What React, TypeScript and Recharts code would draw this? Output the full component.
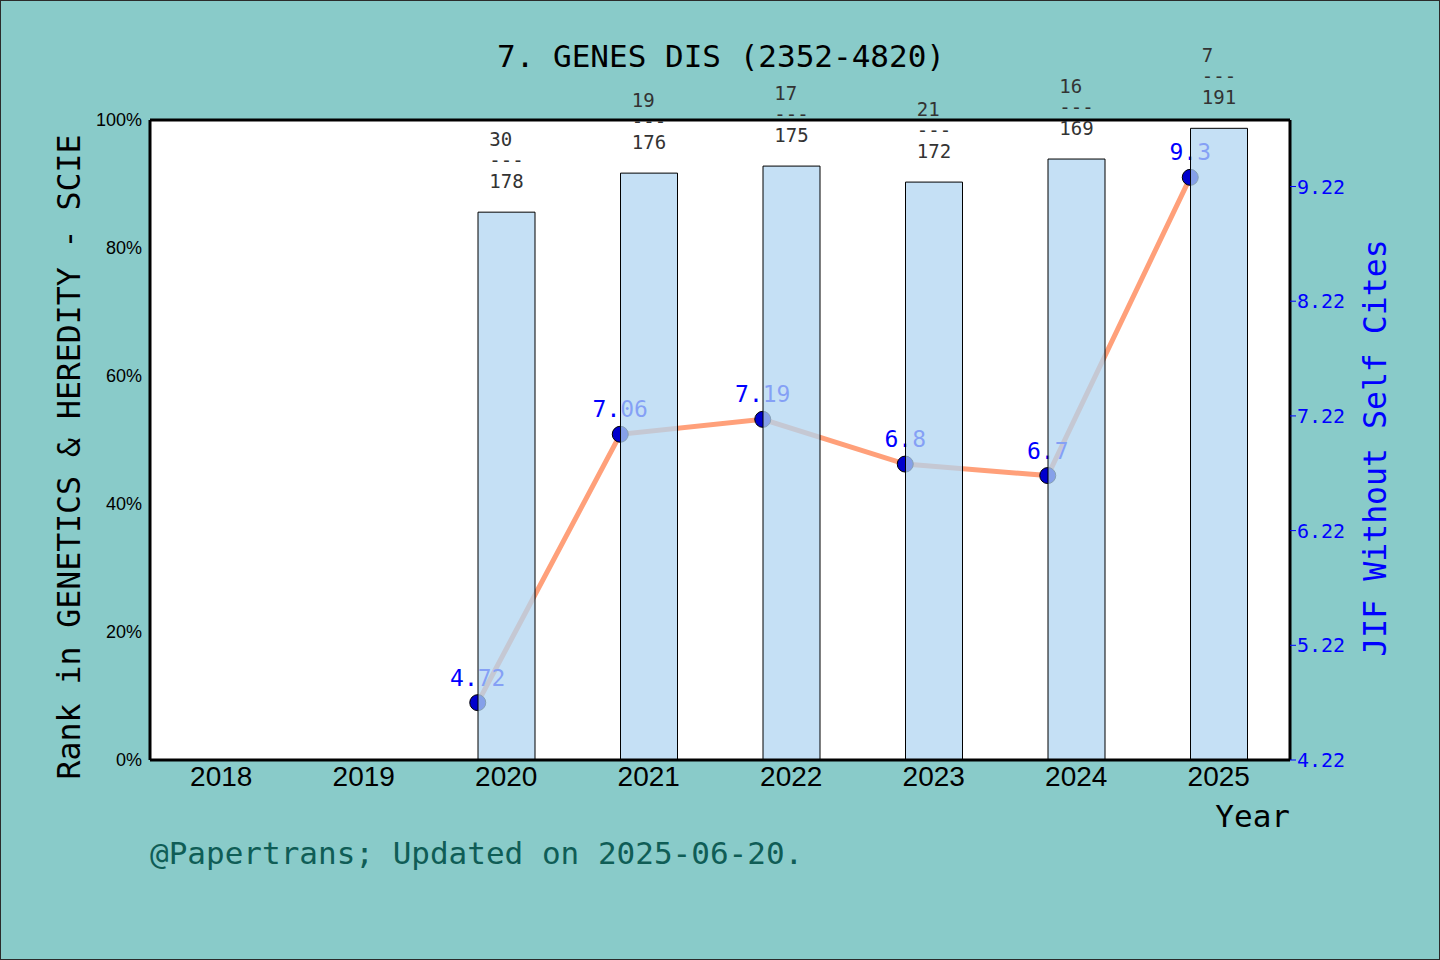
import React from 'react';
import { ComposedChart, Bar, Line, Scatter, XAxis, YAxis, CartesianGrid, ReferenceLine, LabelList } from 'recharts';

// --- data ---
const years = [2018, 2019, 2020, 2021, 2022, 2023, 2024, 2025];
const rankPercent = [null, null, 85.6, 91.7, 92.8, 90.3, 93.9, 98.7];
const jifNoSelf = [null, null, 4.72, 7.06, 7.19, 6.8, 6.7, 9.3];
const categoryRank = [null, null, 30, 19, 17, 21, 16, 7];
const categoryTotal = [null, null, 178, 176, 175, 172, 169, 191];

const pctTicks = [0, 20, 40, 60, 80, 100];
const jifTicks = [4.22, 5.22, 6.22, 7.22, 8.22, 9.22];
const jifDomain = [4.22, 9.8];
const minorTicks = [2018.5, 2019.5, 2020.5, 2021.5, 2022.5, 2023.5, 2024.5];

const data = years.map((year, i) => ({
  year,
  pct: rankPercent[i],
  jif: jifNoSelf[i],
  rank: categoryRank[i],
  total: categoryTotal[i],
}));

const MONO = '"DejaVu Sans Mono", monospace';
const SANS = '"Liberation Sans", Arial, sans-serif';

// rank / total stacked above each bar
function RankLabel(props: any) {
  const vb = props.viewBox ?? props;
  const { x, y, width } = vb;
  if (props.value == null || x == null) return null;
  const [rank, total] = String(props.value).split('|');
  const fs = 19;
  const left = x + width / 2 - 1.5 * fs * 0.602;
  return (
    <text fontFamily={MONO} fontSize={fs} fill="#333">
      <tspan x={left} y={y - 66}>{rank}</tspan>
      <tspan x={left} y={y - 45}>---</tspan>
      <tspan x={left} y={y - 24}>{total}</tspan>
    </text>
  );
}

function JifLabel(props: any) {
  const vb = props.viewBox ?? props;
  const { x, y } = vb;
  if (props.value == null || x == null) return null;
  return (
    <text x={x} y={y - 17} textAnchor="middle" fontFamily={MONO} fontSize={23} fill="#0000ff">
      {props.value}
    </text>
  );
}

function Marker(props: any) {
  const { cx, cy } = props;
  if (cx == null || cy == null || props.payload?.jif == null) return null;
  return <circle cx={cx} cy={cy} r={8} fill="#0000cd" stroke="#000" strokeWidth={1} />;
}

export default function App() {
  return (
    <div style={{ position: 'fixed', left: 0, top: 0, width: 1440, height: 960, background: '#89cbc9', boxShadow: 'inset 0 0 0 1px #2b2b2b' }}>
      <ComposedChart width={1440} height={960} data={data} margin={{ top: 120, right: 0, bottom: 0, left: 0 }}>
        <CartesianGrid xAxisId="cat" yAxisId="pct" fill="#fff" stroke="none" horizontal={false} vertical={false} />
        <XAxis
          xAxisId="cat"
          dataKey="year"
          type="category"
          height={200}
          interval={0}
          tickLine={false}
          tickSize={0}
          tickMargin={6}
          axisLine={{ stroke: '#000', strokeWidth: 3 }}
          tick={{ fill: '#000', fontSize: 28, fontFamily: SANS }}
        />
        <XAxis xAxisId="line" dataKey="year" type="number" domain={[2017.7, 2025.7]} hide allowDataOverflow />
        <XAxis
          xAxisId="minor"
          dataKey="year"
          type="number"
          domain={[2017.5, 2025.5]}
          ticks={minorTicks}
          mirror
          tick={false}
          axisLine={false}
          tickSize={6}
          tickLine={{ stroke: '#000' }}
        />
        <YAxis
          yAxisId="pct"
          domain={[0, 100]}
          ticks={pctTicks}
          width={150}
          tickLine={false}
          tickSize={0}
          tickMargin={8}
          tickFormatter={(v) => `${v}%`}
          axisLine={{ stroke: '#000', strokeWidth: 3 }}
          tick={{ fill: '#000', fontSize: 18, fontFamily: SANS }}
        />
        <YAxis
          yAxisId="pctIn"
          domain={[0, 100]}
          ticks={pctTicks}
          mirror
          tick={false}
          axisLine={false}
          tickSize={6}
          tickLine={{ stroke: '#000' }}
        />
        <YAxis
          yAxisId="jif"
          orientation="right"
          domain={jifDomain}
          ticks={jifTicks}
          width={150}
          allowDataOverflow
          tickSize={6}
          tickMargin={1}
          tickFormatter={(v) => v.toFixed(2)}
          axisLine={{ stroke: '#000', strokeWidth: 3 }}
          tickLine={{ stroke: '#0000ff' }}
          tick={{ fill: '#0000ff', fontSize: 20, fontFamily: MONO }}
        />
        <ReferenceLine xAxisId="cat" yAxisId="pct" y={100} stroke="#000" strokeWidth={3} />
        <Line
          xAxisId="line"
          yAxisId="jif"
          dataKey="jif"
          type="linear"
          stroke="#ffa07a"
          strokeWidth={5}
          dot={false}
          activeDot={false}
          isAnimationActive={false}
          zIndex={200}
        >
          <LabelList dataKey="jif" content={JifLabel} zIndex={250} />
        </Line>
        <Scatter
          xAxisId="line"
          yAxisId="jif"
          dataKey="jif"
          shape={Marker}
          isAnimationActive={false}
          zIndex={220}
        />
        <Bar
          xAxisId="cat"
          yAxisId="pct"
          dataKey="pct"
          barSize={57}
          fill="#b2d6f2"
          fillOpacity={0.75}
          stroke="#000"
          strokeWidth={1}
          isAnimationActive={false}
          zIndex={300}
        >
          <LabelList dataKey={(d: any) => (d.rank != null ? `${d.rank}|${d.total}` : null)} content={RankLabel} />
        </Bar>
      </ComposedChart>
      <svg width={1440} height={960} style={{ position: 'absolute', left: 0, top: 0, pointerEvents: 'none' }}>
        <text x={721} y={67} textAnchor="middle" fontFamily={MONO} fontSize={31} fill="#000">
          7. GENES DIS (2352-4820)
        </text>
        <text x={80} y={457} transform="rotate(-90 80 457)" textAnchor="middle" fontFamily={MONO} fontSize={31.5} fill="#000">
          Rank in GENETICS &amp; HEREDITY - SCIE
        </text>
        <text x={1386} y={448} transform="rotate(-90 1386 448)" textAnchor="middle" fontFamily={MONO} fontSize={31.5} fill="#0000ff">
          JIF Without Self Cites
        </text>
        <text x={1290} y={827} textAnchor="end" fontFamily={MONO} fontSize={31} fill="#000">
          Year
        </text>
        <text x={150} y={864} fontFamily={MONO} fontSize={31} fill="#0f5d56">
          @Papertrans; Updated on 2025-06-20.
        </text>
      </svg>
    </div>
  );
}
